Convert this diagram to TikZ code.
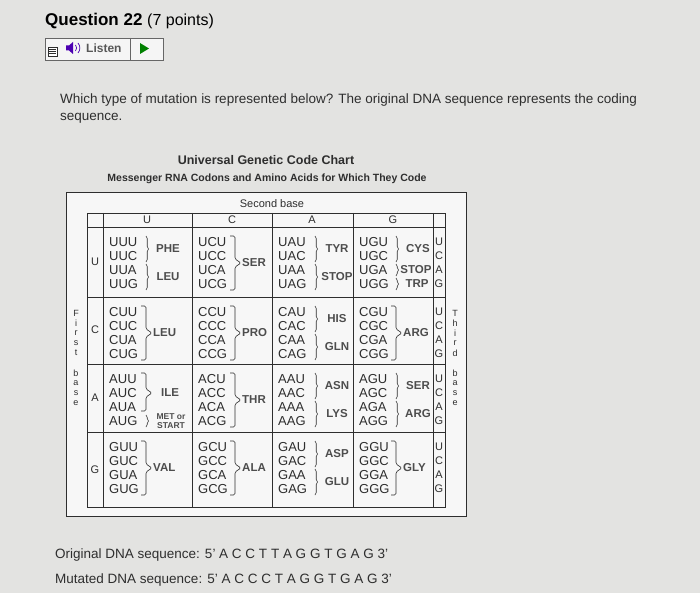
\documentclass[tikz,border=0pt]{standalone}
\usepackage{fontspec}
\setmainfont{Liberation Sans}
\usetikzlibrary{decorations.pathreplacing}
\definecolor{bg}{HTML}{E3E3E1}
\definecolor{ink}{HTML}{2E2E2E}
\tikzset{
 cd/.style={anchor=west,inner sep=0pt,font=\fontsize{13}{13}\selectfont,text=ink},
 aa/.style={inner sep=0pt,font=\fontsize{11.5}{11}\selectfont\bfseries,text=ink!85},
 brc/.style={decorate,decoration={brace,amplitude=2.5pt},draw=ink,line width=0.6pt},
 qb/.style={draw=ink,line width=0.6pt,rounded corners=1.5pt},
 tl/.style={draw=ink,line width=0.9pt},
 hd/.style={inner sep=0pt,font=\fontsize{11}{11}\selectfont,text=ink},
 sm/.style={inner sep=0pt,font=\fontsize{9}{9}\selectfont,text=ink},
}
\newcommand\cods[6]{% x top c0 c1 c2 c3
 \foreach \t [count=\i from 0] in {#3,#4,#5,#6}{\node[cd] at ({#1+6},{#2+15+14*\i}) {\t};}}
\newcommand\thirdb[1]{\node[hd] at (439,{#1+15}) {U};\node[hd] at (439,{#1+29}) {C};
 \node[hd] at (439,{#1+43}) {A};\node[hd] at (439,{#1+57}) {G};}
\newcommand\pairb[4]{% x top firstline label
 \draw[brc] ({#1+43},{#2+15+14*#3-6}) -- ({#1+43},{#2+29+14*#3+6});
 \node[aa] at ({#1+65},{#2+22+14*#3}) {#4};}
\newcommand\quadb[3]{% x top label
 \draw[qb] ({#1+38},{#2+9}) -- ({#1+43},{#2+9}) -- ({#1+43},{#2+32}) -- ({#1+49},{#2+36}) -- ({#1+43},{#2+40}) -- ({#1+43},{#2+63}) -- ({#1+38},{#2+63});
 \node[aa,anchor=west] at ({#1+50},{#2+36}) {#3};}
\begin{document}
\begin{tikzpicture}[x=1pt,y=-1pt]
\useasboundingbox (0,0) rectangle (700,593);
\fill[bg] (0,0) rectangle (700,593);
% header
\node[anchor=west,inner sep=0pt] (q) at (45,21) {\fontsize{17}{17}\selectfont\bfseries Question 22 \fontsize{16}{16}\mdseries(7 points)};
\draw[draw=gray!80!black,fill=gray!8] (45,38) rectangle (163,60);
\draw[gray!80!black] (130,38) -- (130,60);
\draw[fill=white,draw=ink] (48,47) rectangle (57,56);
\foreach \k in {49.5,51.5,53.5}{\draw[ink] (49,\k) -- (56,\k);}
\fill[violet!60!blue] (66,45.5) -- (69,45.5) -- (73,42) -- (73,54) -- (69,50.5) -- (66,50.5) -- cycle;
\draw[violet!60!blue,line width=0.7pt] (75.5,45) to[bend left=40] (75.5,51);
\draw[violet!60!blue,line width=0.7pt] (78,43) to[bend left=40] (78,53);
\node[anchor=west,inner sep=0pt,font=\fontsize{12}{12}\selectfont\bfseries,text=ink!80] (lst) at (86,48) {Listen};
\fill[green!50!black] (140,43) -- (149,48.5) -- (140,54) -- cycle;
\node[anchor=west,inner sep=0pt,font=\fontsize{13.5}{14}\selectfont,text=ink] (t1) at (60,100) {Which type of mutation is represented below? The original DNA sequence represents the coding};
\node[anchor=west,inner sep=0pt,font=\fontsize{13.5}{14}\selectfont,text=ink] (t2) at (60,118) {sequence.};
% chart
\fill[gray!6] (66,192) rectangle (466,516);
\node[font=\fontsize{12.5}{12}\selectfont\bfseries,text=ink,inner sep=0pt] (ct) at (266,160) {Universal Genetic Code Chart};
\node[font=\fontsize{10.5}{10}\selectfont\bfseries,text=ink,inner sep=0pt] (cs) at (267,179) {Messenger RNA Codons and Amino Acids for Which They Code};
\draw[tl] (66,192) rectangle (466,516);
\node[hd] (sb) at (272,204) {Second base};
\draw[tl] (87,213) rectangle (445,507);
\draw[tl] (87,227) -- (445,227);
\foreach \yv in {297,364,432}{\draw[tl] (87,\yv) -- (445,\yv);}
\foreach \xv in {103,192,272,353,433}{\draw[tl] (\xv,213) -- (\xv,507);}
\node[hd] at (147,220) {U};\node[hd] at (232,220) {C};\node[hd] at (312,220) {A};\node[hd] at (393,220) {G};
\node[hd] at (95,262) {U};\node[hd] at (95,330) {C};\node[hd] at (95,398) {A};\node[hd] at (95,470) {G};
\foreach \c [count=\i from 0] in {F,i,r,s,t}{\node[sm] at (76,{313+10*\i}) {\c};}
\foreach \c [count=\i from 0] in {b,a,s,e}{\node[sm] at (76,{373+10*\i}) {\c};}
\foreach \c [count=\i from 0] in {T,h,i,r,d}{\node[sm] at (455,{313+10*\i}) {\c};}
\foreach \c [count=\i from 0] in {b,a,s,e}{\node[sm] at (455,{373+10*\i}) {\c};}
\thirdb{227}\thirdb{297}\thirdb{364}\thirdb{432}
% row U
\cods{103}{227}{UUU}{UUC}{UUA}{UUG}\pairb{103}{227}{0}{PHE}\pairb{103}{227}{2}{LEU}
\cods{192}{227}{UCU}{UCC}{UCA}{UCG}\quadb{192}{227}{SER}
\cods{272}{227}{UAU}{UAC}{UAA}{UAG}\pairb{272}{227}{0}{TYR}\pairb{272}{227}{2}{STOP}
\cods{353}{227}{UGU}{UGC}{UGA}{UGG}\pairb{353}{227}{0}{CYS}
\draw[brc] (396,{227+43-6}) -- (396,{227+43+6});\node[aa] at (416,270) {STOP};
\draw[brc] (396,{227+57-6}) -- (396,{227+57+6});\node[aa] at (417,284) {TRP};
% row C
\cods{103}{297}{CUU}{CUC}{CUA}{CUG}\quadb{103}{297}{LEU}
\cods{192}{297}{CCU}{CCC}{CCA}{CCG}\quadb{192}{297}{PRO}
\cods{272}{297}{CAU}{CAC}{CAA}{CAG}\pairb{272}{297}{0}{HIS}\pairb{272}{297}{2}{GLN}
\cods{353}{297}{CGU}{CGC}{CGA}{CGG}\quadb{353}{297}{ARG}
% row A
\cods{103}{364}{AUU}{AUC}{AUA}{AUG}
\draw[qb] (141,373) -- (146,373) -- (146,389) -- (152,393) -- (146,397) -- (146,411) -- (141,411);
\node[aa] at (170,393) {ILE};
\draw[brc] (146,415) -- (146,427);
\node[aa,font=\fontsize{8.5}{8.5}\selectfont\bfseries,align=center] at (171,421) {MET or\\START};
\cods{192}{364}{ACU}{ACC}{ACA}{ACG}\quadb{192}{364}{THR}
\cods{272}{364}{AAU}{AAC}{AAA}{AAG}\pairb{272}{364}{0}{ASN}\pairb{272}{364}{2}{LYS}
\cods{353}{364}{AGU}{AGC}{AGA}{AGG}\pairb{353}{364}{0}{SER}\pairb{353}{364}{2}{ARG}
% row G
\cods{103}{432}{GUU}{GUC}{GUA}{GUG}\quadb{103}{432}{VAL}
\cods{192}{432}{GCU}{GCC}{GCA}{GCG}\quadb{192}{432}{ALA}
\cods{272}{432}{GAU}{GAC}{GAA}{GAG}\pairb{272}{432}{0}{ASP}\pairb{272}{432}{2}{GLU}
\cods{353}{432}{GGU}{GGC}{GGA}{GGG}\quadb{353}{432}{GLY}
% bottom
\node[anchor=west,inner sep=0pt,font=\fontsize{13.5}{14}\selectfont,text=ink] (o) at (55,555) {Original DNA sequence: 5' A C C T T A G G T G A G 3'};
\node[anchor=west,inner sep=0pt,font=\fontsize{13.5}{14}\selectfont,text=ink] (m) at (55,580) {Mutated DNA sequence: 5' A C C C T A G G T G A G 3'};
\end{tikzpicture}
\end{document}
